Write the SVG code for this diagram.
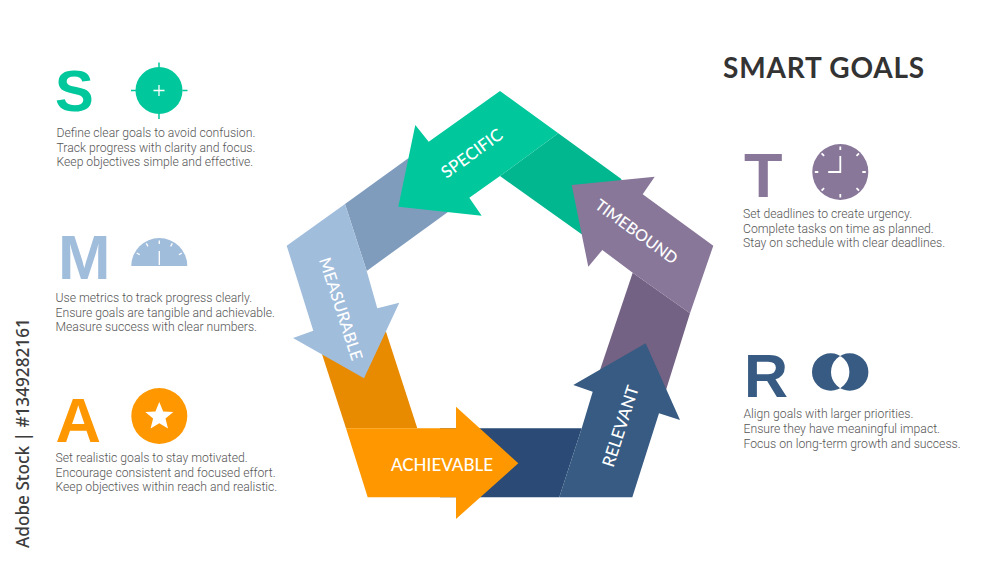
<svg xmlns="http://www.w3.org/2000/svg" width="1000" height="563" viewBox="0 0 1000 563">
<style>
.lab{font-family:"Lato","Liberation Sans",sans-serif;font-weight:500;font-size:17px;fill:#fff;text-anchor:middle;dominant-baseline:central}
.big{font-family:"Liberation Sans",Arial,sans-serif;font-weight:700;font-size:63px}
.body{font-family:"Roboto","Liberation Sans",sans-serif;font-weight:300;font-size:12.2px;fill:#555}
.w{stroke:#fff;fill:none;stroke-linecap:butt}
</style>
<rect width="1000" height="563" fill="#fff"/>
<g id="connectors">
<polygon points="345,204 366.7,271 448.3,211.7 408.3,158.3" fill="#7f9cbd"/>
<polygon points="321.7,353.3 386,331.7 417.3,428.3 346,428.3" fill="#e88b00"/>
<polygon points="440,428.3 581.7,428.3 559.3,497.3 440,497.3" fill="#2b4b76"/>
<polygon points="632.7,272.7 690,313.3 666,390 600,370" fill="#736283"/>
<polygon points="558.3,133.3 621.7,179.3 581.7,234.3 500,176" fill="#00b78f"/>
</g>
<g id="node-specific">
<polygon points="398.3,206.7 415.3,125 428.7,141.7 500,91 558.3,133.3 500,176 469.3,197.7 481.7,215.7" fill="#00c89c"/>
<text class="lab" transform="translate(471.5 153) rotate(-36)">SPECIFIC</text>
</g>
<g id="node-measurable">
<polygon points="286.7,245.7 345,204 366.7,271 377.3,308.3 399.3,302.7 364,378.3 293,338 313.3,330.7" fill="#a1bddc"/>
<text class="lab" style="font-size:16.4px" transform="translate(341.5 308.500) rotate(72)">MEASURABLE</text>
</g>
<g id="node-achievable">
<polygon points="346,428.3 456,428.3 456,406.7 518.3,463.3 456,519 456,497.3 367.7,497.3" fill="#ff9800"/>
<text class="lab" transform="translate(442 464.5)">ACHIEVABLE</text>
</g>
<g id="node-relevant">
<polygon points="559.3,497.3 581.7,428.3 592.7,391.7 573.3,385 645.7,343.3 680,420 659,413.3 632.3,497.3" fill="#375b82"/>
<text class="lab" transform="translate(620 426) rotate(-72)">RELEVANT</text>
</g>
<g id="node-timebound">
<polygon points="571.7,185 654.7,176.7 642.7,194.3 713.3,245.7 690,313.3 632.7,272.7 602.3,250 588.3,266.7" fill="#887799"/>
<text class="lab" style="font-size:16px" transform="translate(637 231) rotate(36)">TIMEBOUND</text>
</g>
<text x="723" y="78" font-family="Lato,'Liberation Sans',sans-serif" font-weight="700" font-size="28" letter-spacing="0.8" fill="#333">SMART GOALS</text>
<g id="panel-s">
<text class="big" style="font-size:58px" x="55" y="111" fill="#00c89c">S</text>
<circle cx="159" cy="90.5" r="23.5" fill="#00c89c"/>
<path d="M159 62.5v5M159 114v5M131 90.5h5M182.500 90.500h5" stroke="#00c89c" stroke-width="1.500"/>
<path class="w" d="M159 85v11M153.500 90.500h11" stroke-width="1.300"/>
<text class="body" x="56.500" y="136.500">Define clear goals to avoid confusion.</text>
<text class="body" x="56.500" y="151.500">Track progress with clarity and focus.</text>
<text class="body" x="56.500" y="166">Keep objectives simple and effective.</text>
</g>
<g id="panel-m">
<text class="big" x="58" y="279.300" fill="#a1bddc">M</text>
<path d="M131.300 266a28 28 0 0 1 56 0z" fill="#a1bddc"/>
<path class="w" d="M159.300 265v-14M159.300 244v-3.500M148 246.400l-1.700-3M170.600 246.400l1.700-3M139.700 254.700l-3-1.700M178.900 254.700l3-1.700" stroke-width="1.300"/>
<text class="body" x="55.500" y="301.500">Use metrics to track progress clearly.</text>
<text class="body" x="55.500" y="316.500">Ensure goals are tangible and achievable.</text>
<text class="body" x="55.500" y="331">Measure success with clear numbers.</text>
</g>
<g id="panel-a">
<text class="big" x="55.500" y="442.300" fill="#ff9800">A</text>
<circle cx="159.300" cy="416" r="28" fill="#ff9800"/>
<polygon points="159.300,402 163.200,411.400 173.300,412.100 165.500,418.600 168,428.500 159.300,423.200 150.600,428.500 153.100,418.600 145.300,412.100 155.400,411.400" fill="#fff"/>
<text class="body" x="55.500" y="461.500">Set realistic goals to stay motivated.</text>
<text class="body" x="55.500" y="476.500">Encourage consistent and focused effort.</text>
<text class="body" x="55.500" y="491">Keep objectives within reach and realistic.</text>
</g>
<g id="panel-t">
<text class="big" x="744" y="197.300" fill="#887799">T</text>
<circle cx="840.300" cy="172" r="28" fill="#887799"/>
<path class="w" d="M840.300 172.900v-16.900M841.200 172h-13M840.300 146.500v3.500M840.300 194v3.500M814.800 172h3.500M862.300 172h3.500M856.500 155.800l2.500-2.500M824.100 155.800l-2.500-2.500M856.500 188.200l2.500 2.500M824.100 188.200l-2.500 2.500" stroke-width="1.800"/>
<text class="body" x="743" y="217.500">Set deadlines to create urgency.</text>
<text class="body" x="743" y="232.500">Complete tasks on time as planned.</text>
<text class="body" x="743" y="247">Stay on schedule with clear deadlines.</text>
</g>
<g id="panel-r">
<text class="big" style="font-size:61px" x="744" y="397.300" fill="#375b82">R</text>
<path d="M812 372a18.700 18.700 0 1 0 37.400 0a18.700 18.700 0 1 0-37.400 0zM831 372a18.700 18.700 0 1 0 37.400 0a18.700 18.700 0 1 0-37.400 0z" fill="#375b82" fill-rule="evenodd"/>
<text class="body" x="743.500" y="417.500">Align goals with larger priorities.</text>
<text class="body" x="743.500" y="432.500">Ensure they have meaningful impact.</text>
<text class="body" x="743.500" y="447.500">Focus on long-term growth and success.</text>
</g>
<text transform="translate(29 548) rotate(-90)" font-family="'Noto Sans','DejaVu Sans',sans-serif" font-weight="500" font-size="17.200" fill="#3d3d3d">Adobe Stock | #1349282161</text>
</svg>
